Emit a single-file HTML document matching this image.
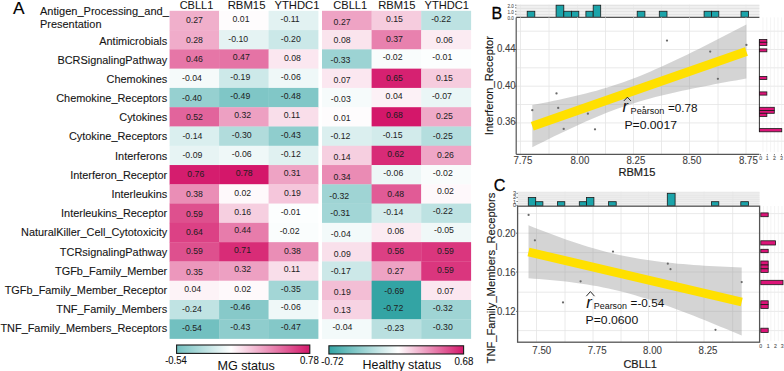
<!DOCTYPE html>
<html><head><meta charset="utf-8"><style>
html,body{margin:0;padding:0;background:#fff;}
body{width:784px;height:371px;overflow:hidden;}
svg{display:block;font-family:"Liberation Sans", sans-serif;}
</style></head><body>
<svg width="784" height="371" viewBox="0 0 784 371">
<rect width="784" height="371" fill="#fff"/>
<rect x="169.60" y="10.80" width="49.80" height="19.58" fill="#f0afcb"/>
<rect x="219.10" y="10.80" width="49.80" height="19.58" fill="#fefcfd"/>
<rect x="268.60" y="10.80" width="49.80" height="19.58" fill="#e2f2f2"/>
<rect x="169.60" y="30.08" width="49.80" height="19.58" fill="#f0acca"/>
<rect x="219.10" y="30.08" width="49.80" height="19.58" fill="#e5f3f3"/>
<rect x="268.60" y="30.08" width="49.80" height="19.58" fill="#cbe8e8"/>
<rect x="169.60" y="49.36" width="49.80" height="19.58" fill="#e676a7"/>
<rect x="219.10" y="49.36" width="49.80" height="19.58" fill="#e573a5"/>
<rect x="268.60" y="49.36" width="49.80" height="19.58" fill="#fbe7f0"/>
<rect x="169.60" y="68.64" width="49.80" height="19.58" fill="#f5fafa"/>
<rect x="219.10" y="68.64" width="49.80" height="19.58" fill="#cde9e9"/>
<rect x="268.60" y="68.64" width="49.80" height="19.58" fill="#eff8f8"/>
<rect x="169.60" y="87.92" width="49.80" height="19.58" fill="#96d0d0"/>
<rect x="219.10" y="87.92" width="49.80" height="19.58" fill="#7fc6c6"/>
<rect x="268.60" y="87.92" width="49.80" height="19.58" fill="#81c7c7"/>
<rect x="169.60" y="107.20" width="49.80" height="19.58" fill="#e2649c"/>
<rect x="219.10" y="107.20" width="49.80" height="19.58" fill="#eda0c2"/>
<rect x="268.60" y="107.20" width="49.80" height="19.58" fill="#f9deea"/>
<rect x="169.60" y="126.48" width="49.80" height="19.58" fill="#daefef"/>
<rect x="219.10" y="126.48" width="49.80" height="19.58" fill="#b1dcdc"/>
<rect x="268.60" y="126.48" width="49.80" height="19.58" fill="#8fcdcd"/>
<rect x="169.60" y="145.76" width="49.80" height="19.58" fill="#e7f4f4"/>
<rect x="219.10" y="145.76" width="49.80" height="19.58" fill="#eff8f8"/>
<rect x="268.60" y="145.76" width="49.80" height="19.58" fill="#e0f1f1"/>
<rect x="169.60" y="165.04" width="49.80" height="19.58" fill="#d51d6e"/>
<rect x="219.10" y="165.04" width="49.80" height="19.58" fill="#d4176a"/>
<rect x="268.60" y="165.04" width="49.80" height="19.58" fill="#eea3c4"/>
<rect x="169.60" y="184.32" width="49.80" height="19.58" fill="#ea8eb6"/>
<rect x="219.10" y="184.32" width="49.80" height="19.58" fill="#fef9fb"/>
<rect x="268.60" y="184.32" width="49.80" height="19.58" fill="#f5c6db"/>
<rect x="169.60" y="203.60" width="49.80" height="19.58" fill="#de508e"/>
<rect x="219.10" y="203.60" width="49.80" height="19.58" fill="#f6cfe0"/>
<rect x="268.60" y="203.60" width="49.80" height="19.58" fill="#fcfefe"/>
<rect x="169.60" y="222.88" width="49.80" height="19.58" fill="#dc4185"/>
<rect x="219.10" y="222.88" width="49.80" height="19.58" fill="#e77cab"/>
<rect x="268.60" y="222.88" width="49.80" height="19.58" fill="#fafdfd"/>
<rect x="169.60" y="242.16" width="49.80" height="19.58" fill="#de508e"/>
<rect x="219.10" y="242.16" width="49.80" height="19.58" fill="#d82c77"/>
<rect x="268.60" y="242.16" width="49.80" height="19.58" fill="#ea8eb6"/>
<rect x="169.60" y="261.44" width="49.80" height="19.58" fill="#ec97bc"/>
<rect x="219.10" y="261.44" width="49.80" height="19.58" fill="#eda0c2"/>
<rect x="268.60" y="261.44" width="49.80" height="19.58" fill="#f9deea"/>
<rect x="169.60" y="280.72" width="49.80" height="19.58" fill="#fdf3f7"/>
<rect x="219.10" y="280.72" width="49.80" height="19.58" fill="#fef9fb"/>
<rect x="268.60" y="280.72" width="49.80" height="19.58" fill="#a3d6d6"/>
<rect x="169.60" y="300.00" width="49.80" height="19.58" fill="#c0e3e3"/>
<rect x="219.10" y="300.00" width="49.80" height="19.58" fill="#87c9c9"/>
<rect x="268.60" y="300.00" width="49.80" height="19.58" fill="#eff8f8"/>
<rect x="169.60" y="319.28" width="49.80" height="19.58" fill="#72c0c0"/>
<rect x="219.10" y="319.28" width="49.80" height="19.58" fill="#8fcdcd"/>
<rect x="268.60" y="319.28" width="49.80" height="19.58" fill="#84c8c8"/>
<text transform="translate(194.40,23.40) scale(0.92,1)" x="0" y="0" font-size="9.5" text-anchor="middle" fill="#1e1e1e" stroke="#1e1e1e" stroke-width="0.03">0.27</text>
<text transform="translate(241.00,22.00) scale(0.92,1)" x="0" y="0" font-size="9.5" text-anchor="middle" fill="#1e1e1e" stroke="#1e1e1e" stroke-width="0.03">0.01</text>
<text transform="translate(290.10,22.00) scale(0.92,1)" x="0" y="0" font-size="9.5" text-anchor="middle" fill="#1e1e1e" stroke="#1e1e1e" stroke-width="0.03">-0.11</text>
<text transform="translate(194.40,43.10) scale(0.92,1)" x="0" y="0" font-size="9.5" text-anchor="middle" fill="#1e1e1e" stroke="#1e1e1e" stroke-width="0.03">0.28</text>
<text transform="translate(238.20,41.70) scale(0.92,1)" x="0" y="0" font-size="9.5" text-anchor="middle" fill="#1e1e1e" stroke="#1e1e1e" stroke-width="0.03">-0.10</text>
<text transform="translate(290.80,41.70) scale(0.92,1)" x="0" y="0" font-size="9.5" text-anchor="middle" fill="#1e1e1e" stroke="#1e1e1e" stroke-width="0.03">-0.20</text>
<text transform="translate(194.40,62.20) scale(0.92,1)" x="0" y="0" font-size="9.5" text-anchor="middle" fill="#1e1e1e" stroke="#1e1e1e" stroke-width="0.03">0.46</text>
<text transform="translate(241.30,60.30) scale(0.92,1)" x="0" y="0" font-size="9.5" text-anchor="middle" fill="#1e1e1e" stroke="#1e1e1e" stroke-width="0.03">0.47</text>
<text transform="translate(292.40,60.90) scale(0.92,1)" x="0" y="0" font-size="9.5" text-anchor="middle" fill="#1e1e1e" stroke="#1e1e1e" stroke-width="0.03">0.08</text>
<text transform="translate(192.00,81.40) scale(0.92,1)" x="0" y="0" font-size="9.5" text-anchor="middle" fill="#1e1e1e" stroke="#1e1e1e" stroke-width="0.03">-0.04</text>
<text transform="translate(240.30,80.00) scale(0.92,1)" x="0" y="0" font-size="9.5" text-anchor="middle" fill="#1e1e1e" stroke="#1e1e1e" stroke-width="0.03">-0.19</text>
<text transform="translate(290.80,80.00) scale(0.92,1)" x="0" y="0" font-size="9.5" text-anchor="middle" fill="#1e1e1e" stroke="#1e1e1e" stroke-width="0.03">-0.06</text>
<text transform="translate(192.00,100.50) scale(0.92,1)" x="0" y="0" font-size="9.5" text-anchor="middle" fill="#1e1e1e" stroke="#1e1e1e" stroke-width="0.03">-0.40</text>
<text transform="translate(240.30,99.20) scale(0.92,1)" x="0" y="0" font-size="9.5" text-anchor="middle" fill="#1e1e1e" stroke="#1e1e1e" stroke-width="0.03">-0.49</text>
<text transform="translate(290.80,99.20) scale(0.92,1)" x="0" y="0" font-size="9.5" text-anchor="middle" fill="#1e1e1e" stroke="#1e1e1e" stroke-width="0.03">-0.48</text>
<text transform="translate(194.40,119.60) scale(0.92,1)" x="0" y="0" font-size="9.5" text-anchor="middle" fill="#1e1e1e" stroke="#1e1e1e" stroke-width="0.03">0.52</text>
<text transform="translate(242.70,118.30) scale(0.92,1)" x="0" y="0" font-size="9.5" text-anchor="middle" fill="#1e1e1e" stroke="#1e1e1e" stroke-width="0.03">0.32</text>
<text transform="translate(291.90,118.30) scale(0.92,1)" x="0" y="0" font-size="9.5" text-anchor="middle" fill="#1e1e1e" stroke="#1e1e1e" stroke-width="0.03">0.11</text>
<text transform="translate(192.40,138.60) scale(0.92,1)" x="0" y="0" font-size="9.5" text-anchor="middle" fill="#1e1e1e" stroke="#1e1e1e" stroke-width="0.03">-0.14</text>
<text transform="translate(241.70,137.50) scale(0.92,1)" x="0" y="0" font-size="9.5" text-anchor="middle" fill="#1e1e1e" stroke="#1e1e1e" stroke-width="0.03">-0.30</text>
<text transform="translate(290.80,137.50) scale(0.92,1)" x="0" y="0" font-size="9.5" text-anchor="middle" fill="#1e1e1e" stroke="#1e1e1e" stroke-width="0.03">-0.43</text>
<text transform="translate(192.40,158.10) scale(0.92,1)" x="0" y="0" font-size="9.5" text-anchor="middle" fill="#1e1e1e" stroke="#1e1e1e" stroke-width="0.03">-0.09</text>
<text transform="translate(241.70,156.60) scale(0.92,1)" x="0" y="0" font-size="9.5" text-anchor="middle" fill="#1e1e1e" stroke="#1e1e1e" stroke-width="0.03">-0.06</text>
<text transform="translate(290.80,156.60) scale(0.92,1)" x="0" y="0" font-size="9.5" text-anchor="middle" fill="#1e1e1e" stroke="#1e1e1e" stroke-width="0.03">-0.12</text>
<text transform="translate(195.80,177.30) scale(0.92,1)" x="0" y="0" font-size="9.5" text-anchor="middle" fill="#1e1e1e" stroke="#1e1e1e" stroke-width="0.03">0.76</text>
<text transform="translate(244.20,175.70) scale(0.92,1)" x="0" y="0" font-size="9.5" text-anchor="middle" fill="#1e1e1e" stroke="#1e1e1e" stroke-width="0.03">0.78</text>
<text transform="translate(292.20,175.70) scale(0.92,1)" x="0" y="0" font-size="9.5" text-anchor="middle" fill="#1e1e1e" stroke="#1e1e1e" stroke-width="0.03">0.31</text>
<text transform="translate(194.40,196.60) scale(0.92,1)" x="0" y="0" font-size="9.5" text-anchor="middle" fill="#1e1e1e" stroke="#1e1e1e" stroke-width="0.03">0.38</text>
<text transform="translate(242.70,195.50) scale(0.92,1)" x="0" y="0" font-size="9.5" text-anchor="middle" fill="#1e1e1e" stroke="#1e1e1e" stroke-width="0.03">0.02</text>
<text transform="translate(292.40,195.50) scale(0.92,1)" x="0" y="0" font-size="9.5" text-anchor="middle" fill="#1e1e1e" stroke="#1e1e1e" stroke-width="0.03">0.19</text>
<text transform="translate(194.40,217.10) scale(0.92,1)" x="0" y="0" font-size="9.5" text-anchor="middle" fill="#1e1e1e" stroke="#1e1e1e" stroke-width="0.03">0.59</text>
<text transform="translate(242.70,215.20) scale(0.92,1)" x="0" y="0" font-size="9.5" text-anchor="middle" fill="#1e1e1e" stroke="#1e1e1e" stroke-width="0.03">0.16</text>
<text transform="translate(290.60,214.60) scale(0.92,1)" x="0" y="0" font-size="9.5" text-anchor="middle" fill="#1e1e1e" stroke="#1e1e1e" stroke-width="0.03">-0.01</text>
<text transform="translate(194.40,234.90) scale(0.92,1)" x="0" y="0" font-size="9.5" text-anchor="middle" fill="#1e1e1e" stroke="#1e1e1e" stroke-width="0.03">0.64</text>
<text transform="translate(242.70,233.30) scale(0.92,1)" x="0" y="0" font-size="9.5" text-anchor="middle" fill="#1e1e1e" stroke="#1e1e1e" stroke-width="0.03">0.44</text>
<text transform="translate(289.60,234.30) scale(0.92,1)" x="0" y="0" font-size="9.5" text-anchor="middle" fill="#1e1e1e" stroke="#1e1e1e" stroke-width="0.03">-0.02</text>
<text transform="translate(194.40,253.50) scale(0.92,1)" x="0" y="0" font-size="9.5" text-anchor="middle" fill="#1e1e1e" stroke="#1e1e1e" stroke-width="0.03">0.59</text>
<text transform="translate(242.50,252.70) scale(0.92,1)" x="0" y="0" font-size="9.5" text-anchor="middle" fill="#1e1e1e" stroke="#1e1e1e" stroke-width="0.03">0.71</text>
<text transform="translate(292.40,253.50) scale(0.92,1)" x="0" y="0" font-size="9.5" text-anchor="middle" fill="#1e1e1e" stroke="#1e1e1e" stroke-width="0.03">0.38</text>
<text transform="translate(194.40,274.50) scale(0.92,1)" x="0" y="0" font-size="9.5" text-anchor="middle" fill="#1e1e1e" stroke="#1e1e1e" stroke-width="0.03">0.35</text>
<text transform="translate(242.70,271.80) scale(0.92,1)" x="0" y="0" font-size="9.5" text-anchor="middle" fill="#1e1e1e" stroke="#1e1e1e" stroke-width="0.03">0.32</text>
<text transform="translate(291.90,271.80) scale(0.92,1)" x="0" y="0" font-size="9.5" text-anchor="middle" fill="#1e1e1e" stroke="#1e1e1e" stroke-width="0.03">0.11</text>
<text transform="translate(192.70,292.30) scale(0.92,1)" x="0" y="0" font-size="9.5" text-anchor="middle" fill="#1e1e1e" stroke="#1e1e1e" stroke-width="0.03">0.04</text>
<text transform="translate(242.70,291.70) scale(0.92,1)" x="0" y="0" font-size="9.5" text-anchor="middle" fill="#1e1e1e" stroke="#1e1e1e" stroke-width="0.03">0.02</text>
<text transform="translate(290.80,291.70) scale(0.92,1)" x="0" y="0" font-size="9.5" text-anchor="middle" fill="#1e1e1e" stroke="#1e1e1e" stroke-width="0.03">-0.35</text>
<text transform="translate(192.00,312.20) scale(0.92,1)" x="0" y="0" font-size="9.5" text-anchor="middle" fill="#1e1e1e" stroke="#1e1e1e" stroke-width="0.03">-0.24</text>
<text transform="translate(240.30,310.30) scale(0.92,1)" x="0" y="0" font-size="9.5" text-anchor="middle" fill="#1e1e1e" stroke="#1e1e1e" stroke-width="0.03">-0.46</text>
<text transform="translate(290.80,309.70) scale(0.92,1)" x="0" y="0" font-size="9.5" text-anchor="middle" fill="#1e1e1e" stroke="#1e1e1e" stroke-width="0.03">-0.06</text>
<text transform="translate(192.00,331.30) scale(0.92,1)" x="0" y="0" font-size="9.5" text-anchor="middle" fill="#1e1e1e" stroke="#1e1e1e" stroke-width="0.03">-0.54</text>
<text transform="translate(240.30,330.20) scale(0.92,1)" x="0" y="0" font-size="9.5" text-anchor="middle" fill="#1e1e1e" stroke="#1e1e1e" stroke-width="0.03">-0.43</text>
<text transform="translate(290.80,329.80) scale(0.92,1)" x="0" y="0" font-size="9.5" text-anchor="middle" fill="#1e1e1e" stroke="#1e1e1e" stroke-width="0.03">-0.47</text>
<rect x="322.00" y="10.80" width="49.90" height="19.58" fill="#eea3c4"/>
<rect x="371.60" y="10.80" width="49.90" height="19.58" fill="#f6ccde"/>
<rect x="421.20" y="10.80" width="49.90" height="19.58" fill="#bde2e2"/>
<rect x="322.00" y="30.08" width="49.90" height="19.58" fill="#fae4ed"/>
<rect x="371.60" y="30.08" width="49.90" height="19.58" fill="#e881ae"/>
<rect x="421.20" y="30.08" width="49.90" height="19.58" fill="#fbebf2"/>
<rect x="322.00" y="49.36" width="49.90" height="19.58" fill="#9cd3d3"/>
<rect x="371.60" y="49.36" width="49.90" height="19.58" fill="#f9fcfc"/>
<rect x="421.20" y="49.36" width="49.90" height="19.58" fill="#fcfefe"/>
<rect x="322.00" y="68.64" width="49.90" height="19.58" fill="#fbe7f0"/>
<rect x="371.60" y="68.64" width="49.90" height="19.58" fill="#d62171"/>
<rect x="421.20" y="68.64" width="49.90" height="19.58" fill="#f6ccde"/>
<rect x="322.00" y="87.92" width="49.90" height="19.58" fill="#f6fbfb"/>
<rect x="371.60" y="87.92" width="49.90" height="19.58" fill="#fcf1f6"/>
<rect x="421.20" y="87.92" width="49.90" height="19.58" fill="#eaf6f6"/>
<rect x="322.00" y="107.20" width="49.90" height="19.58" fill="#fefcfd"/>
<rect x="371.60" y="107.20" width="49.90" height="19.58" fill="#d4176a"/>
<rect x="421.20" y="107.20" width="49.90" height="19.58" fill="#efaac8"/>
<rect x="322.00" y="126.48" width="49.90" height="19.58" fill="#dbefef"/>
<rect x="371.60" y="126.48" width="49.90" height="19.58" fill="#d2ebeb"/>
<rect x="421.20" y="126.48" width="49.90" height="19.58" fill="#b4dede"/>
<rect x="322.00" y="145.76" width="49.90" height="19.58" fill="#f6cfe0"/>
<rect x="371.60" y="145.76" width="49.90" height="19.58" fill="#d82b77"/>
<rect x="421.20" y="145.76" width="49.90" height="19.58" fill="#efa6c6"/>
<rect x="322.00" y="165.04" width="49.90" height="19.58" fill="#ea8bb4"/>
<rect x="371.60" y="165.04" width="49.90" height="19.58" fill="#edf7f7"/>
<rect x="421.20" y="165.04" width="49.90" height="19.58" fill="#f9fcfc"/>
<rect x="322.00" y="184.32" width="49.90" height="19.58" fill="#9fd4d4"/>
<rect x="371.60" y="184.32" width="49.90" height="19.58" fill="#e15b96"/>
<rect x="421.20" y="184.32" width="49.90" height="19.58" fill="#fef8fb"/>
<rect x="322.00" y="203.60" width="49.90" height="19.58" fill="#a2d6d6"/>
<rect x="371.60" y="203.60" width="49.90" height="19.58" fill="#d5ecec"/>
<rect x="421.20" y="203.60" width="49.90" height="19.58" fill="#bde2e2"/>
<rect x="322.00" y="222.88" width="49.90" height="19.58" fill="#f3fafa"/>
<rect x="371.60" y="222.88" width="49.90" height="19.58" fill="#fbebf2"/>
<rect x="421.20" y="222.88" width="49.90" height="19.58" fill="#f0f8f8"/>
<rect x="322.00" y="242.16" width="49.90" height="19.58" fill="#f9e0eb"/>
<rect x="371.60" y="242.16" width="49.90" height="19.58" fill="#dc4084"/>
<rect x="421.20" y="242.16" width="49.90" height="19.58" fill="#da367e"/>
<rect x="322.00" y="261.44" width="49.90" height="19.58" fill="#cce8e8"/>
<rect x="371.60" y="261.44" width="49.90" height="19.58" fill="#eea3c4"/>
<rect x="421.20" y="261.44" width="49.90" height="19.58" fill="#da367e"/>
<rect x="322.00" y="280.72" width="49.90" height="19.58" fill="#f3bed5"/>
<rect x="371.60" y="280.72" width="49.90" height="19.58" fill="#33a4a4"/>
<rect x="421.20" y="280.72" width="49.90" height="19.58" fill="#fbe7f0"/>
<rect x="322.00" y="300.00" width="49.90" height="19.58" fill="#f7d3e3"/>
<rect x="371.60" y="300.00" width="49.90" height="19.58" fill="#33a4a4"/>
<rect x="421.20" y="300.00" width="49.90" height="19.58" fill="#9fd4d4"/>
<rect x="322.00" y="319.28" width="49.90" height="19.58" fill="#f3fafa"/>
<rect x="371.60" y="319.28" width="49.90" height="19.58" fill="#bae0e0"/>
<rect x="421.20" y="319.28" width="49.90" height="19.58" fill="#a5d7d7"/>
<text transform="translate(342.10,24.90) scale(0.92,1)" x="0" y="0" font-size="9.5" text-anchor="middle" fill="#1e1e1e" stroke="#1e1e1e" stroke-width="0.03">0.27</text>
<text transform="translate(394.40,22.00) scale(0.92,1)" x="0" y="0" font-size="9.5" text-anchor="middle" fill="#1e1e1e" stroke="#1e1e1e" stroke-width="0.03">0.15</text>
<text transform="translate(441.10,21.50) scale(0.92,1)" x="0" y="0" font-size="9.5" text-anchor="middle" fill="#1e1e1e" stroke="#1e1e1e" stroke-width="0.03">-0.22</text>
<text transform="translate(342.10,43.10) scale(0.92,1)" x="0" y="0" font-size="9.5" text-anchor="middle" fill="#1e1e1e" stroke="#1e1e1e" stroke-width="0.03">0.08</text>
<text transform="translate(394.40,41.70) scale(0.92,1)" x="0" y="0" font-size="9.5" text-anchor="middle" fill="#1e1e1e" stroke="#1e1e1e" stroke-width="0.03">0.37</text>
<text transform="translate(444.40,42.50) scale(0.92,1)" x="0" y="0" font-size="9.5" text-anchor="middle" fill="#1e1e1e" stroke="#1e1e1e" stroke-width="0.03">0.06</text>
<text transform="translate(340.50,62.80) scale(0.92,1)" x="0" y="0" font-size="9.5" text-anchor="middle" fill="#1e1e1e" stroke="#1e1e1e" stroke-width="0.03">-0.33</text>
<text transform="translate(392.60,60.30) scale(0.92,1)" x="0" y="0" font-size="9.5" text-anchor="middle" fill="#1e1e1e" stroke="#1e1e1e" stroke-width="0.03">-0.02</text>
<text transform="translate(442.30,60.30) scale(0.92,1)" x="0" y="0" font-size="9.5" text-anchor="middle" fill="#1e1e1e" stroke="#1e1e1e" stroke-width="0.03">-0.01</text>
<text transform="translate(342.10,82.90) scale(0.92,1)" x="0" y="0" font-size="9.5" text-anchor="middle" fill="#1e1e1e" stroke="#1e1e1e" stroke-width="0.03">0.07</text>
<text transform="translate(394.40,80.60) scale(0.92,1)" x="0" y="0" font-size="9.5" text-anchor="middle" fill="#1e1e1e" stroke="#1e1e1e" stroke-width="0.03">0.65</text>
<text transform="translate(444.40,80.60) scale(0.92,1)" x="0" y="0" font-size="9.5" text-anchor="middle" fill="#1e1e1e" stroke="#1e1e1e" stroke-width="0.03">0.15</text>
<text transform="translate(340.80,102.40) scale(0.92,1)" x="0" y="0" font-size="9.5" text-anchor="middle" fill="#1e1e1e" stroke="#1e1e1e" stroke-width="0.03">-0.03</text>
<text transform="translate(394.10,99.20) scale(0.92,1)" x="0" y="0" font-size="9.5" text-anchor="middle" fill="#1e1e1e" stroke="#1e1e1e" stroke-width="0.03">0.04</text>
<text transform="translate(441.90,99.20) scale(0.92,1)" x="0" y="0" font-size="9.5" text-anchor="middle" fill="#1e1e1e" stroke="#1e1e1e" stroke-width="0.03">-0.07</text>
<text transform="translate(342.10,120.80) scale(0.92,1)" x="0" y="0" font-size="9.5" text-anchor="middle" fill="#1e1e1e" stroke="#1e1e1e" stroke-width="0.03">0.01</text>
<text transform="translate(394.40,118.30) scale(0.92,1)" x="0" y="0" font-size="9.5" text-anchor="middle" fill="#1e1e1e" stroke="#1e1e1e" stroke-width="0.03">0.68</text>
<text transform="translate(444.40,119.30) scale(0.92,1)" x="0" y="0" font-size="9.5" text-anchor="middle" fill="#1e1e1e" stroke="#1e1e1e" stroke-width="0.03">0.25</text>
<text transform="translate(340.50,139.40) scale(0.92,1)" x="0" y="0" font-size="9.5" text-anchor="middle" fill="#1e1e1e" stroke="#1e1e1e" stroke-width="0.03">-0.12</text>
<text transform="translate(392.60,137.50) scale(0.92,1)" x="0" y="0" font-size="9.5" text-anchor="middle" fill="#1e1e1e" stroke="#1e1e1e" stroke-width="0.03">-0.15</text>
<text transform="translate(442.80,138.60) scale(0.92,1)" x="0" y="0" font-size="9.5" text-anchor="middle" fill="#1e1e1e" stroke="#1e1e1e" stroke-width="0.03">-0.25</text>
<text transform="translate(342.10,160.00) scale(0.92,1)" x="0" y="0" font-size="9.5" text-anchor="middle" fill="#1e1e1e" stroke="#1e1e1e" stroke-width="0.03">0.14</text>
<text transform="translate(395.70,157.20) scale(0.92,1)" x="0" y="0" font-size="9.5" text-anchor="middle" fill="#1e1e1e" stroke="#1e1e1e" stroke-width="0.03">0.62</text>
<text transform="translate(445.40,157.70) scale(0.92,1)" x="0" y="0" font-size="9.5" text-anchor="middle" fill="#1e1e1e" stroke="#1e1e1e" stroke-width="0.03">0.26</text>
<text transform="translate(342.10,179.60) scale(0.92,1)" x="0" y="0" font-size="9.5" text-anchor="middle" fill="#1e1e1e" stroke="#1e1e1e" stroke-width="0.03">0.34</text>
<text transform="translate(393.30,175.70) scale(0.92,1)" x="0" y="0" font-size="9.5" text-anchor="middle" fill="#1e1e1e" stroke="#1e1e1e" stroke-width="0.03">-0.06</text>
<text transform="translate(442.80,176.30) scale(0.92,1)" x="0" y="0" font-size="9.5" text-anchor="middle" fill="#1e1e1e" stroke="#1e1e1e" stroke-width="0.03">-0.02</text>
<text transform="translate(339.20,198.90) scale(0.92,1)" x="0" y="0" font-size="9.5" text-anchor="middle" fill="#1e1e1e" stroke="#1e1e1e" stroke-width="0.03">-0.32</text>
<text transform="translate(395.70,196.60) scale(0.92,1)" x="0" y="0" font-size="9.5" text-anchor="middle" fill="#1e1e1e" stroke="#1e1e1e" stroke-width="0.03">0.48</text>
<text transform="translate(445.40,193.50) scale(0.92,1)" x="0" y="0" font-size="9.5" text-anchor="middle" fill="#1e1e1e" stroke="#1e1e1e" stroke-width="0.03">0.02</text>
<text transform="translate(340.20,215.70) scale(0.92,1)" x="0" y="0" font-size="9.5" text-anchor="middle" fill="#1e1e1e" stroke="#1e1e1e" stroke-width="0.03">-0.31</text>
<text transform="translate(393.30,214.60) scale(0.92,1)" x="0" y="0" font-size="9.5" text-anchor="middle" fill="#1e1e1e" stroke="#1e1e1e" stroke-width="0.03">-0.14</text>
<text transform="translate(442.80,214.20) scale(0.92,1)" x="0" y="0" font-size="9.5" text-anchor="middle" fill="#1e1e1e" stroke="#1e1e1e" stroke-width="0.03">-0.22</text>
<text transform="translate(340.80,237.20) scale(0.92,1)" x="0" y="0" font-size="9.5" text-anchor="middle" fill="#1e1e1e" stroke="#1e1e1e" stroke-width="0.03">-0.04</text>
<text transform="translate(395.70,234.30) scale(0.92,1)" x="0" y="0" font-size="9.5" text-anchor="middle" fill="#1e1e1e" stroke="#1e1e1e" stroke-width="0.03">0.06</text>
<text transform="translate(444.00,233.00) scale(0.92,1)" x="0" y="0" font-size="9.5" text-anchor="middle" fill="#1e1e1e" stroke="#1e1e1e" stroke-width="0.03">-0.05</text>
<text transform="translate(342.30,256.50) scale(0.92,1)" x="0" y="0" font-size="9.5" text-anchor="middle" fill="#1e1e1e" stroke="#1e1e1e" stroke-width="0.03">0.09</text>
<text transform="translate(395.70,253.50) scale(0.92,1)" x="0" y="0" font-size="9.5" text-anchor="middle" fill="#1e1e1e" stroke="#1e1e1e" stroke-width="0.03">0.56</text>
<text transform="translate(445.40,253.50) scale(0.92,1)" x="0" y="0" font-size="9.5" text-anchor="middle" fill="#1e1e1e" stroke="#1e1e1e" stroke-width="0.03">0.59</text>
<text transform="translate(340.80,273.70) scale(0.92,1)" x="0" y="0" font-size="9.5" text-anchor="middle" fill="#1e1e1e" stroke="#1e1e1e" stroke-width="0.03">-0.17</text>
<text transform="translate(395.70,273.70) scale(0.92,1)" x="0" y="0" font-size="9.5" text-anchor="middle" fill="#1e1e1e" stroke="#1e1e1e" stroke-width="0.03">0.27</text>
<text transform="translate(445.40,272.60) scale(0.92,1)" x="0" y="0" font-size="9.5" text-anchor="middle" fill="#1e1e1e" stroke="#1e1e1e" stroke-width="0.03">0.59</text>
<text transform="translate(342.30,294.80) scale(0.92,1)" x="0" y="0" font-size="9.5" text-anchor="middle" fill="#1e1e1e" stroke="#1e1e1e" stroke-width="0.03">0.19</text>
<text transform="translate(394.20,293.60) scale(0.92,1)" x="0" y="0" font-size="9.5" text-anchor="middle" fill="#1e1e1e" stroke="#1e1e1e" stroke-width="0.03">-0.69</text>
<text transform="translate(445.40,293.60) scale(0.92,1)" x="0" y="0" font-size="9.5" text-anchor="middle" fill="#1e1e1e" stroke="#1e1e1e" stroke-width="0.03">0.07</text>
<text transform="translate(342.30,312.90) scale(0.92,1)" x="0" y="0" font-size="9.5" text-anchor="middle" fill="#1e1e1e" stroke="#1e1e1e" stroke-width="0.03">0.13</text>
<text transform="translate(393.30,311.00) scale(0.92,1)" x="0" y="0" font-size="9.5" text-anchor="middle" fill="#1e1e1e" stroke="#1e1e1e" stroke-width="0.03">-0.72</text>
<text transform="translate(442.80,311.00) scale(0.92,1)" x="0" y="0" font-size="9.5" text-anchor="middle" fill="#1e1e1e" stroke="#1e1e1e" stroke-width="0.03">-0.32</text>
<text transform="translate(342.40,330.20) scale(0.92,1)" x="0" y="0" font-size="9.5" text-anchor="middle" fill="#1e1e1e" stroke="#1e1e1e" stroke-width="0.03">-0.04</text>
<text transform="translate(394.20,331.30) scale(0.92,1)" x="0" y="0" font-size="9.5" text-anchor="middle" fill="#1e1e1e" stroke="#1e1e1e" stroke-width="0.03">-0.23</text>
<text transform="translate(442.80,329.80) scale(0.92,1)" x="0" y="0" font-size="9.5" text-anchor="middle" fill="#1e1e1e" stroke="#1e1e1e" stroke-width="0.03">-0.30</text>
<text x="179.70" y="9.30" font-size="10.6" text-anchor="start" fill="#151515" textLength="33.60" lengthAdjust="spacingAndGlyphs" stroke="#151515" stroke-width="0.05">CBLL1</text>
<text x="227.70" y="9.30" font-size="10.6" text-anchor="start" fill="#151515" textLength="37.80" lengthAdjust="spacingAndGlyphs" stroke="#151515" stroke-width="0.05">RBM15</text>
<text x="274.50" y="9.30" font-size="10.6" text-anchor="start" fill="#151515" textLength="45.00" lengthAdjust="spacingAndGlyphs" stroke="#151515" stroke-width="0.05">YTHDC1</text>
<text x="333.30" y="9.30" font-size="10.6" text-anchor="start" fill="#151515" textLength="33.80" lengthAdjust="spacingAndGlyphs" stroke="#151515" stroke-width="0.05">CBLL1</text>
<text x="378.20" y="9.30" font-size="10.6" text-anchor="start" fill="#151515" textLength="37.30" lengthAdjust="spacingAndGlyphs" stroke="#151515" stroke-width="0.05">RBM15</text>
<text x="424.50" y="9.30" font-size="10.6" text-anchor="start" fill="#151515" textLength="44.50" lengthAdjust="spacingAndGlyphs" stroke="#151515" stroke-width="0.05">YTHDC1</text>
<text x="40.00" y="14.70" font-size="11.2" text-anchor="start" fill="#151515" textLength="128.80" lengthAdjust="spacingAndGlyphs" stroke="#151515" stroke-width="0.1">Antigen_Processing_and_</text>
<text x="40.00" y="28.20" font-size="11.2" text-anchor="start" fill="#151515" textLength="61.50" lengthAdjust="spacingAndGlyphs" stroke="#151515" stroke-width="0.1">Presentation</text>
<text transform="translate(167.20,44.50) scale(0.95,1)" x="0" y="0" font-size="11.5" text-anchor="end" fill="#151515" stroke="#151515" stroke-width="0.1">Antimicrobials</text>
<text transform="translate(167.20,63.69) scale(0.95,1)" x="0" y="0" font-size="11.5" text-anchor="end" fill="#151515" stroke="#151515" stroke-width="0.1">BCRSignalingPathway</text>
<text transform="translate(167.20,82.88) scale(0.95,1)" x="0" y="0" font-size="11.5" text-anchor="end" fill="#151515" stroke="#151515" stroke-width="0.1">Chemokines</text>
<text transform="translate(167.20,102.07) scale(0.95,1)" x="0" y="0" font-size="11.5" text-anchor="end" fill="#151515" stroke="#151515" stroke-width="0.1">Chemokine_Receptors</text>
<text transform="translate(167.20,121.26) scale(0.95,1)" x="0" y="0" font-size="11.5" text-anchor="end" fill="#151515" stroke="#151515" stroke-width="0.1">Cytokines</text>
<text transform="translate(167.20,140.45) scale(0.95,1)" x="0" y="0" font-size="11.5" text-anchor="end" fill="#151515" stroke="#151515" stroke-width="0.1">Cytokine_Receptors</text>
<text transform="translate(167.20,159.64) scale(0.95,1)" x="0" y="0" font-size="11.5" text-anchor="end" fill="#151515" stroke="#151515" stroke-width="0.1">Interferons</text>
<text transform="translate(167.20,178.83) scale(0.95,1)" x="0" y="0" font-size="11.5" text-anchor="end" fill="#151515" stroke="#151515" stroke-width="0.1">Interferon_Receptor</text>
<text transform="translate(167.20,198.02) scale(0.95,1)" x="0" y="0" font-size="11.5" text-anchor="end" fill="#151515" stroke="#151515" stroke-width="0.1">Interleukins</text>
<text transform="translate(167.20,217.21) scale(0.95,1)" x="0" y="0" font-size="11.5" text-anchor="end" fill="#151515" stroke="#151515" stroke-width="0.1">Interleukins_Receptor</text>
<text transform="translate(167.20,236.40) scale(0.95,1)" x="0" y="0" font-size="11.5" text-anchor="end" fill="#151515" stroke="#151515" stroke-width="0.1">NaturalKiller_Cell_Cytotoxicity</text>
<text transform="translate(167.20,255.59) scale(0.95,1)" x="0" y="0" font-size="11.5" text-anchor="end" fill="#151515" stroke="#151515" stroke-width="0.1">TCRsignalingPathway</text>
<text transform="translate(167.20,274.78) scale(0.95,1)" x="0" y="0" font-size="11.5" text-anchor="end" fill="#151515" stroke="#151515" stroke-width="0.1">TGFb_Family_Member</text>
<text transform="translate(167.20,293.97) scale(0.95,1)" x="0" y="0" font-size="11.5" text-anchor="end" fill="#151515" stroke="#151515" stroke-width="0.1">TGFb_Family_Member_Receptor</text>
<text transform="translate(167.20,313.16) scale(0.95,1)" x="0" y="0" font-size="11.5" text-anchor="end" fill="#151515" stroke="#151515" stroke-width="0.1">TNF_Family_Members</text>
<text transform="translate(167.20,332.35) scale(0.95,1)" x="0" y="0" font-size="11.5" text-anchor="end" fill="#151515" stroke="#151515" stroke-width="0.1">TNF_Family_Members_Receptors</text>
<text x="13.10" y="13.90" font-size="17.3" text-anchor="start" fill="#000" stroke="#000" stroke-width="0.15">A</text>
<linearGradient id="g1" x1="0" x2="1" y1="0" y2="0"><stop offset="0.0000" stop-color="#72c0c0"/><stop offset="0.4091" stop-color="#ffffff"/><stop offset="1.0000" stop-color="#d4176a"/></linearGradient>
<rect x="176.60" y="345.00" width="133.20" height="8.40" fill="url(#g1)" stroke="#1a1a1a" stroke-width="1.1"/>
<linearGradient id="g2" x1="0" x2="1" y1="0" y2="0"><stop offset="0.0000" stop-color="#33a4a4"/><stop offset="0.5143" stop-color="#ffffff"/><stop offset="1.0000" stop-color="#d4176a"/></linearGradient>
<rect x="328.90" y="345.80" width="134.70" height="8.20" fill="url(#g2)" stroke="#1a1a1a" stroke-width="1.1"/>
<text x="165.20" y="364.00" font-size="10.2" text-anchor="start" fill="#111" textLength="21.60" lengthAdjust="spacingAndGlyphs" stroke="#111" stroke-width="0.1">-0.54</text>
<text x="300.00" y="364.00" font-size="10.2" text-anchor="start" fill="#111" textLength="18.80" lengthAdjust="spacingAndGlyphs" stroke="#111" stroke-width="0.1">0.78</text>
<text x="217.40" y="369.60" font-size="12.2" text-anchor="start" fill="#111" textLength="57.40" lengthAdjust="spacingAndGlyphs">MG status</text>
<text x="321.20" y="365.20" font-size="10.2" text-anchor="start" fill="#111" textLength="22.40" lengthAdjust="spacingAndGlyphs" stroke="#111" stroke-width="0.1">-0.72</text>
<text x="454.40" y="365.20" font-size="10.2" text-anchor="start" fill="#111" textLength="19.00" lengthAdjust="spacingAndGlyphs" stroke="#111" stroke-width="0.1">0.68</text>
<text x="362.50" y="368.60" font-size="12.2" text-anchor="start" fill="#111" textLength="78.80" lengthAdjust="spacingAndGlyphs">Healthy status</text>
<text transform="translate(491.60,19.10) scale(0.93,1)" x="0" y="0" font-size="17.2" text-anchor="start" fill="#000" stroke="#000" stroke-width="0.3">B</text>
<rect x="516.2" y="4.6" width="243.20" height="12.8" fill="#f0f0f0"/>
<line x1="516.2" x2="759.4" y1="5.4" y2="5.4" stroke="#dedede" stroke-width="0.7"/>
<line x1="516.2" x2="759.4" y1="8.4" y2="8.4" stroke="#dedede" stroke-width="0.7"/>
<line x1="516.2" x2="759.4" y1="11.5" y2="11.5" stroke="#dedede" stroke-width="0.7"/>
<line x1="516.2" x2="759.4" y1="14.5" y2="14.5" stroke="#dedede" stroke-width="0.7"/>
<line x1="520.5" x2="520.5" y1="4.6" y2="17.4" stroke="#e4e4e4" stroke-width="0.5"/>
<line x1="549" x2="549" y1="4.6" y2="17.4" stroke="#e4e4e4" stroke-width="0.5"/>
<line x1="577.5" x2="577.5" y1="4.6" y2="17.4" stroke="#e4e4e4" stroke-width="0.5"/>
<line x1="605.5" x2="605.5" y1="4.6" y2="17.4" stroke="#e4e4e4" stroke-width="0.5"/>
<line x1="633.5" x2="633.5" y1="4.6" y2="17.4" stroke="#e4e4e4" stroke-width="0.5"/>
<line x1="661.5" x2="661.5" y1="4.6" y2="17.4" stroke="#e4e4e4" stroke-width="0.5"/>
<line x1="689.5" x2="689.5" y1="4.6" y2="17.4" stroke="#e4e4e4" stroke-width="0.5"/>
<line x1="718" x2="718" y1="4.6" y2="17.4" stroke="#e4e4e4" stroke-width="0.5"/>
<line x1="746" x2="746" y1="4.6" y2="17.4" stroke="#e4e4e4" stroke-width="0.5"/>
<rect x="527.2" y="11.25" width="7.60" height="6.05" fill="#1ba4aa" stroke="#1a1a1a" stroke-width="0.8"/>
<rect x="556.1" y="5.20" width="7.70" height="12.10" fill="#1ba4aa" stroke="#1a1a1a" stroke-width="0.8"/>
<rect x="563.8" y="11.25" width="7.60" height="6.05" fill="#1ba4aa" stroke="#1a1a1a" stroke-width="0.8"/>
<rect x="571.4" y="11.25" width="7.40" height="6.05" fill="#1ba4aa" stroke="#1a1a1a" stroke-width="0.8"/>
<rect x="585.9" y="11.25" width="7.30" height="6.05" fill="#1ba4aa" stroke="#1a1a1a" stroke-width="0.8"/>
<rect x="593.2" y="5.20" width="7.50" height="12.10" fill="#1ba4aa" stroke="#1a1a1a" stroke-width="0.8"/>
<rect x="637.2" y="11.25" width="7.70" height="6.05" fill="#1ba4aa" stroke="#1a1a1a" stroke-width="0.8"/>
<rect x="659.3" y="11.25" width="7.70" height="6.05" fill="#1ba4aa" stroke="#1a1a1a" stroke-width="0.8"/>
<rect x="704.1" y="11.25" width="7.50" height="6.05" fill="#1ba4aa" stroke="#1a1a1a" stroke-width="0.8"/>
<rect x="711.6" y="11.25" width="7.20" height="6.05" fill="#1ba4aa" stroke="#1a1a1a" stroke-width="0.8"/>
<rect x="741.0" y="11.25" width="7.60" height="6.05" fill="#1ba4aa" stroke="#1a1a1a" stroke-width="0.8"/>
<line x1="516.2" x2="759.4" y1="17.4" y2="17.4" stroke="#555555" stroke-width="1.2"/>
<text transform="translate(513.80,8.00) scale(0.85,1)" x="0" y="0" font-size="5.4" text-anchor="end" fill="#555" stroke="#555" stroke-width="0.1">2.0</text>
<text transform="translate(513.80,14.10) scale(0.85,1)" x="0" y="0" font-size="5.4" text-anchor="end" fill="#555" stroke="#555" stroke-width="0.1">1.0</text>
<text transform="translate(513.80,20.00) scale(0.85,1)" x="0" y="0" font-size="5.4" text-anchor="end" fill="#555" stroke="#555" stroke-width="0.1">0.0</text>
<line x1="515.0" x2="516.4" y1="5.2" y2="5.2" stroke="#555" stroke-width="0.8"/>
<line x1="515.0" x2="516.4" y1="7.8" y2="7.8" stroke="#555" stroke-width="0.8"/>
<line x1="515.0" x2="516.4" y1="11.3" y2="11.3" stroke="#555" stroke-width="0.8"/>
<line x1="515.0" x2="516.4" y1="14.2" y2="14.2" stroke="#555" stroke-width="0.8"/>
<line x1="516.2" x2="784" y1="31.2" y2="31.2" stroke="#e4e4e4" stroke-width="0.8"/>
<line x1="516.2" x2="784" y1="49.5" y2="49.5" stroke="#e4e4e4" stroke-width="0.8"/>
<line x1="516.2" x2="784" y1="67.8" y2="67.8" stroke="#e4e4e4" stroke-width="0.8"/>
<line x1="516.2" x2="784" y1="86.2" y2="86.2" stroke="#e4e4e4" stroke-width="0.8"/>
<line x1="516.2" x2="784" y1="104.5" y2="104.5" stroke="#e4e4e4" stroke-width="0.8"/>
<line x1="516.2" x2="784" y1="122.9" y2="122.9" stroke="#e4e4e4" stroke-width="0.8"/>
<line x1="516.2" x2="784" y1="141.2" y2="141.2" stroke="#e4e4e4" stroke-width="0.8"/>
<line x1="520.5" x2="520.5" y1="17.4" y2="154.3" stroke="#e4e4e4" stroke-width="0.8"/>
<line x1="549" x2="549" y1="17.4" y2="154.3" stroke="#e4e4e4" stroke-width="0.8"/>
<line x1="577.5" x2="577.5" y1="17.4" y2="154.3" stroke="#e4e4e4" stroke-width="0.8"/>
<line x1="605.5" x2="605.5" y1="17.4" y2="154.3" stroke="#e4e4e4" stroke-width="0.8"/>
<line x1="633.5" x2="633.5" y1="17.4" y2="154.3" stroke="#e4e4e4" stroke-width="0.8"/>
<line x1="661.5" x2="661.5" y1="17.4" y2="154.3" stroke="#e4e4e4" stroke-width="0.8"/>
<line x1="689.5" x2="689.5" y1="17.4" y2="154.3" stroke="#e4e4e4" stroke-width="0.8"/>
<line x1="718" x2="718" y1="17.4" y2="154.3" stroke="#e4e4e4" stroke-width="0.8"/>
<line x1="746" x2="746" y1="17.4" y2="154.3" stroke="#e4e4e4" stroke-width="0.8"/>
<path d="M532.30,105.12 L537.65,104.08 L543.00,103.02 L548.36,101.94 L553.71,100.84 L559.06,99.71 L564.41,98.55 L569.77,97.35 L575.12,96.11 L580.47,94.82 L585.82,93.49 L591.18,92.09 L596.53,90.63 L601.88,89.11 L607.24,87.50 L612.59,85.82 L617.94,84.05 L623.29,82.20 L628.64,80.26 L634.00,78.24 L639.35,76.13 L644.70,73.95 L650.05,71.69 L655.41,69.37 L660.76,66.99 L666.11,64.56 L671.46,62.08 L676.82,59.55 L682.17,56.99 L687.52,54.40 L692.88,51.78 L698.23,49.13 L703.58,46.46 L708.93,43.77 L714.28,41.06 L719.64,38.34 L724.99,35.60 L730.34,32.85 L735.69,30.09 L741.05,27.31 L746.40,24.53 L746.40,78.47 L741.05,79.42 L735.69,80.38 L730.34,81.36 L724.99,82.34 L719.64,83.34 L714.28,84.35 L708.93,85.38 L703.58,86.42 L698.23,87.49 L692.88,88.57 L687.52,89.69 L682.17,90.83 L676.82,92.00 L671.46,93.21 L666.11,94.47 L660.76,95.77 L655.41,97.12 L650.05,98.54 L644.70,100.02 L639.35,101.57 L634.00,103.20 L628.64,104.91 L623.29,106.70 L617.94,108.59 L612.59,110.55 L607.24,112.61 L601.88,114.74 L596.53,116.95 L591.18,119.22 L585.82,121.56 L580.47,123.96 L575.12,126.41 L569.77,128.91 L564.41,131.44 L559.06,134.02 L553.71,136.62 L548.36,139.25 L543.00,141.91 L537.65,144.58 L532.30,147.28 Z" fill="#999999" fill-opacity="0.42"/>
<line x1="532.3" y1="126.2" x2="746.4" y2="51.5" stroke="#ffe000" stroke-width="8.9" stroke-linecap="butt"/>
<circle cx="532.3" cy="110.2" r="1.15" fill="#6a6a6a"/>
<circle cx="556.5" cy="93.4" r="1.15" fill="#6a6a6a"/>
<circle cx="558.2" cy="107.9" r="1.15" fill="#6a6a6a"/>
<circle cx="563.7" cy="128.9" r="1.15" fill="#6a6a6a"/>
<circle cx="587.9" cy="113.7" r="1.15" fill="#6a6a6a"/>
<circle cx="595" cy="129.3" r="1.15" fill="#6a6a6a"/>
<circle cx="667" cy="40.6" r="1.15" fill="#6a6a6a"/>
<circle cx="710.2" cy="51.6" r="1.15" fill="#6a6a6a"/>
<circle cx="717.9" cy="78.8" r="1.15" fill="#6a6a6a"/>
<circle cx="746.4" cy="44.9" r="1.15" fill="#6a6a6a"/>
<circle cx="643.8" cy="107.1" r="1.15" fill="#6a6a6a"/>
<line x1="516.2" x2="516.2" y1="17.4" y2="154.3" stroke="#555555" stroke-width="1.2"/>
<line x1="516.2" x2="759.4" y1="154.3" y2="154.3" stroke="#555555" stroke-width="1.2"/>
<line x1="514.7" x2="516.2" y1="49.5" y2="49.5" stroke="#555555" stroke-width="0.9"/>
<text x="497.00" y="51.80" font-size="10.2" text-anchor="start" fill="#404040" textLength="18.70" lengthAdjust="spacingAndGlyphs" stroke="#404040" stroke-width="0.12">0.44</text>
<line x1="514.7" x2="516.2" y1="86.2" y2="86.2" stroke="#555555" stroke-width="0.9"/>
<text x="497.00" y="88.50" font-size="10.2" text-anchor="start" fill="#404040" textLength="18.70" lengthAdjust="spacingAndGlyphs" stroke="#404040" stroke-width="0.12">0.40</text>
<line x1="514.7" x2="516.2" y1="122.9" y2="122.9" stroke="#555555" stroke-width="0.9"/>
<text x="497.00" y="125.20" font-size="10.2" text-anchor="start" fill="#404040" textLength="18.70" lengthAdjust="spacingAndGlyphs" stroke="#404040" stroke-width="0.12">0.36</text>
<text transform="translate(522.90,163.70) scale(0.97,1)" x="0" y="0" font-size="10" text-anchor="middle" fill="#404040" stroke="#404040" stroke-width="0.1">7.75</text>
<text transform="translate(579.90,163.70) scale(0.97,1)" x="0" y="0" font-size="10" text-anchor="middle" fill="#404040" stroke="#404040" stroke-width="0.1">8.00</text>
<text transform="translate(635.90,163.70) scale(0.97,1)" x="0" y="0" font-size="10" text-anchor="middle" fill="#404040" stroke="#404040" stroke-width="0.1">8.25</text>
<text transform="translate(691.90,163.70) scale(0.97,1)" x="0" y="0" font-size="10" text-anchor="middle" fill="#404040" stroke="#404040" stroke-width="0.1">8.50</text>
<text transform="translate(748.40,163.70) scale(0.97,1)" x="0" y="0" font-size="10" text-anchor="middle" fill="#404040" stroke="#404040" stroke-width="0.1">8.75</text>
<text x="618.40" y="176.00" font-size="11" text-anchor="start" fill="#1a1a1a" textLength="37.00" lengthAdjust="spacingAndGlyphs" stroke="#1a1a1a" stroke-width="0.2">RBM15</text>
<text transform="translate(492.6,135.2) rotate(-90)" x="0" y="0" font-size="11" fill="#1a1a1a" stroke="#1a1a1a" stroke-width="0.15" textLength="99.2" lengthAdjust="spacingAndGlyphs">Interferon_Receptor</text>
<text x="622.6" y="111.9" font-size="16.5" font-style="italic" fill="#111">r</text>
<path d="M623.9,100.9 L627.4,97.2 L630.9,100.9" fill="none" stroke="#111" stroke-width="0.9"/>
<text x="630.60" y="114.20" font-size="8.9" text-anchor="start" fill="#111" textLength="33.80" lengthAdjust="spacingAndGlyphs">Pearson</text>
<text x="668.00" y="112.30" font-size="11.2" text-anchor="start" fill="#111" textLength="29.60" lengthAdjust="spacingAndGlyphs">=0.78</text>
<text x="624.40" y="128.50" font-size="11.4" text-anchor="start" fill="#111" textLength="52.60" lengthAdjust="spacingAndGlyphs">P=0.0017</text>
<line x1="763" x2="763" y1="17.4" y2="152" stroke="#ececec" stroke-width="0.6"/>
<line x1="766.8" x2="766.8" y1="17.4" y2="152" stroke="#ececec" stroke-width="0.6"/>
<line x1="770.6" x2="770.6" y1="17.4" y2="152" stroke="#ececec" stroke-width="0.6"/>
<line x1="774.3" x2="774.3" y1="17.4" y2="152" stroke="#ececec" stroke-width="0.6"/>
<line x1="778" x2="778" y1="17.4" y2="152" stroke="#ececec" stroke-width="0.6"/>
<line x1="781.6" x2="781.6" y1="17.4" y2="152" stroke="#ececec" stroke-width="0.6"/>
<line x1="759.4" x2="759.4" y1="39.4" y2="131.8" stroke="#1a1a1a" stroke-width="0.9"/>
<rect x="759.4" y="39.4" width="7.45" height="2.90" fill="#dc1478" stroke="#1a1a1a" stroke-width="0.8"/>
<rect x="759.4" y="42.3" width="7.45" height="3.20" fill="#dc1478" stroke="#1a1a1a" stroke-width="0.8"/>
<rect x="759.4" y="48.9" width="7.45" height="2.90" fill="#dc1478" stroke="#1a1a1a" stroke-width="0.8"/>
<rect x="759.4" y="76.4" width="7.45" height="3.10" fill="#dc1478" stroke="#1a1a1a" stroke-width="0.8"/>
<rect x="759.4" y="91.9" width="7.45" height="3.20" fill="#dc1478" stroke="#1a1a1a" stroke-width="0.8"/>
<rect x="759.4" y="107.3" width="14.90" height="3.20" fill="#dc1478" stroke="#1a1a1a" stroke-width="0.8"/>
<rect x="759.4" y="110.5" width="14.90" height="2.80" fill="#dc1478" stroke="#1a1a1a" stroke-width="0.8"/>
<rect x="759.4" y="113.3" width="7.45" height="3.10" fill="#dc1478" stroke="#1a1a1a" stroke-width="0.8"/>
<rect x="759.4" y="128.6" width="22.35" height="3.20" fill="#dc1478" stroke="#1a1a1a" stroke-width="0.8"/>
<text x="760.60" y="160.00" font-size="5.2" text-anchor="middle" fill="#555" stroke="#555" stroke-width="0.1">0</text>
<line x1="760.6" x2="760.6" y1="154.0" y2="155.3" stroke="#555" stroke-width="0.8"/>
<text x="767.30" y="160.00" font-size="5.2" text-anchor="middle" fill="#555" stroke="#555" stroke-width="0.1">1</text>
<line x1="767.3" x2="767.3" y1="154.0" y2="155.3" stroke="#555" stroke-width="0.8"/>
<text x="774.40" y="160.00" font-size="5.2" text-anchor="middle" fill="#555" stroke="#555" stroke-width="0.1">2</text>
<line x1="774.4" x2="774.4" y1="154.0" y2="155.3" stroke="#555" stroke-width="0.8"/>
<text x="781.50" y="160.00" font-size="5.2" text-anchor="middle" fill="#555" stroke="#555" stroke-width="0.1">3</text>
<line x1="781.5" x2="781.5" y1="154.0" y2="155.3" stroke="#555" stroke-width="0.8"/>
<text transform="translate(493.80,190.80) scale(0.93,1)" x="0" y="0" font-size="17.4" text-anchor="start" fill="#000" stroke="#000" stroke-width="0.3">C</text>
<rect x="517.6" y="191.6" width="242.00" height="14.60" fill="#f0f0f0"/>
<line x1="517.6" x2="759.6" y1="192.9" y2="192.9" stroke="#dedede" stroke-width="0.6"/>
<line x1="517.6" x2="759.6" y1="195.2" y2="195.2" stroke="#dedede" stroke-width="0.6"/>
<line x1="517.6" x2="759.6" y1="197.2" y2="197.2" stroke="#dedede" stroke-width="0.6"/>
<line x1="517.6" x2="759.6" y1="199.3" y2="199.3" stroke="#dedede" stroke-width="0.6"/>
<line x1="517.6" x2="759.6" y1="201.3" y2="201.3" stroke="#dedede" stroke-width="0.6"/>
<line x1="517.6" x2="759.6" y1="203.6" y2="203.6" stroke="#dedede" stroke-width="0.6"/>
<line x1="536.5" x2="536.5" y1="191.6" y2="206" stroke="#e4e4e4" stroke-width="0.5"/>
<line x1="565" x2="565" y1="191.6" y2="206" stroke="#e4e4e4" stroke-width="0.5"/>
<line x1="593" x2="593" y1="191.6" y2="206" stroke="#e4e4e4" stroke-width="0.5"/>
<line x1="621" x2="621" y1="191.6" y2="206" stroke="#e4e4e4" stroke-width="0.5"/>
<line x1="648.5" x2="648.5" y1="191.6" y2="206" stroke="#e4e4e4" stroke-width="0.5"/>
<line x1="676.6" x2="676.6" y1="191.6" y2="206" stroke="#e4e4e4" stroke-width="0.5"/>
<line x1="704" x2="704" y1="191.6" y2="206" stroke="#e4e4e4" stroke-width="0.5"/>
<line x1="732.7" x2="732.7" y1="191.6" y2="206" stroke="#e4e4e4" stroke-width="0.5"/>
<rect x="528.3" y="197.50" width="7.40" height="8.40" fill="#1ba4aa" stroke="#1a1a1a" stroke-width="0.8"/>
<rect x="535.7" y="201.70" width="7.20" height="4.20" fill="#1ba4aa" stroke="#1a1a1a" stroke-width="0.8"/>
<rect x="557.4" y="201.70" width="7.40" height="4.20" fill="#1ba4aa" stroke="#1a1a1a" stroke-width="0.8"/>
<rect x="579.3" y="201.70" width="7.20" height="4.20" fill="#1ba4aa" stroke="#1a1a1a" stroke-width="0.8"/>
<rect x="586.5" y="197.50" width="7.40" height="8.40" fill="#1ba4aa" stroke="#1a1a1a" stroke-width="0.8"/>
<rect x="608.6" y="201.70" width="7.60" height="4.20" fill="#1ba4aa" stroke="#1a1a1a" stroke-width="0.8"/>
<rect x="667.3" y="193.30" width="7.80" height="12.60" fill="#1ba4aa" stroke="#1a1a1a" stroke-width="0.8"/>
<rect x="711.4" y="201.70" width="7.40" height="4.20" fill="#1ba4aa" stroke="#1a1a1a" stroke-width="0.8"/>
<rect x="740.8" y="201.70" width="7.80" height="4.20" fill="#1ba4aa" stroke="#1a1a1a" stroke-width="0.8"/>
<text x="516.20" y="195.40" font-size="5.6" text-anchor="end" fill="#555" stroke="#555" stroke-width="0.1">3</text>
<line x1="516.4" x2="517.8" y1="193.4" y2="193.4" stroke="#555" stroke-width="0.8"/>
<text x="516.20" y="199.40" font-size="5.6" text-anchor="end" fill="#555" stroke="#555" stroke-width="0.1">2</text>
<line x1="516.4" x2="517.8" y1="197.4" y2="197.4" stroke="#555" stroke-width="0.8"/>
<text x="516.20" y="203.50" font-size="5.6" text-anchor="end" fill="#555" stroke="#555" stroke-width="0.1">1</text>
<line x1="516.4" x2="517.8" y1="201.5" y2="201.5" stroke="#555" stroke-width="0.8"/>
<text x="516.20" y="207.40" font-size="5.6" text-anchor="end" fill="#555" stroke="#555" stroke-width="0.1">0</text>
<line x1="516.4" x2="517.8" y1="205.4" y2="205.4" stroke="#555" stroke-width="0.8"/>
<line x1="517.6" x2="784" y1="213.6" y2="213.6" stroke="#e4e4e4" stroke-width="0.8"/>
<line x1="517.6" x2="784" y1="233.2" y2="233.2" stroke="#e4e4e4" stroke-width="0.8"/>
<line x1="517.6" x2="784" y1="252.6" y2="252.6" stroke="#e4e4e4" stroke-width="0.8"/>
<line x1="517.6" x2="784" y1="272.0" y2="272.0" stroke="#e4e4e4" stroke-width="0.8"/>
<line x1="517.6" x2="784" y1="292.2" y2="292.2" stroke="#e4e4e4" stroke-width="0.8"/>
<line x1="517.6" x2="784" y1="311.4" y2="311.4" stroke="#e4e4e4" stroke-width="0.8"/>
<line x1="517.6" x2="784" y1="330.6" y2="330.6" stroke="#e4e4e4" stroke-width="0.8"/>
<line x1="536.5" x2="536.5" y1="206.2" y2="342.2" stroke="#e4e4e4" stroke-width="0.8"/>
<line x1="565" x2="565" y1="206.2" y2="342.2" stroke="#e4e4e4" stroke-width="0.8"/>
<line x1="593" x2="593" y1="206.2" y2="342.2" stroke="#e4e4e4" stroke-width="0.8"/>
<line x1="621" x2="621" y1="206.2" y2="342.2" stroke="#e4e4e4" stroke-width="0.8"/>
<line x1="648.5" x2="648.5" y1="206.2" y2="342.2" stroke="#e4e4e4" stroke-width="0.8"/>
<line x1="676.6" x2="676.6" y1="206.2" y2="342.2" stroke="#e4e4e4" stroke-width="0.8"/>
<line x1="704" x2="704" y1="206.2" y2="342.2" stroke="#e4e4e4" stroke-width="0.8"/>
<line x1="732.7" x2="732.7" y1="206.2" y2="342.2" stroke="#e4e4e4" stroke-width="0.8"/>
<path d="M528.50,225.31 L533.83,227.43 L539.16,229.52 L544.49,231.58 L549.82,233.60 L555.15,235.59 L560.48,237.53 L565.81,239.43 L571.14,241.28 L576.47,243.07 L581.80,244.80 L587.13,246.47 L592.46,248.07 L597.79,249.60 L603.12,251.05 L608.45,252.43 L613.78,253.72 L619.11,254.93 L624.44,256.06 L629.77,257.12 L635.10,258.09 L640.43,259.00 L645.76,259.83 L651.09,260.60 L656.42,261.31 L661.75,261.96 L667.08,262.56 L672.41,263.12 L677.74,263.63 L683.07,264.10 L688.40,264.54 L693.73,264.95 L699.06,265.32 L704.39,265.68 L709.72,266.00 L715.05,266.31 L720.38,266.60 L725.71,266.87 L731.04,267.12 L736.37,267.36 L741.70,267.59 L741.70,335.61 L736.37,333.35 L731.04,331.10 L725.71,328.86 L720.38,326.64 L715.05,324.44 L709.72,322.26 L704.39,320.09 L699.06,317.96 L693.73,315.84 L688.40,313.76 L683.07,311.71 L677.74,309.69 L672.41,307.71 L667.08,305.78 L661.75,303.89 L656.42,302.05 L651.09,300.27 L645.76,298.55 L640.43,296.89 L635.10,295.31 L629.77,293.79 L624.44,292.36 L619.11,291.00 L613.78,289.72 L608.45,288.52 L603.12,287.41 L597.79,286.37 L592.46,285.41 L587.13,284.52 L581.80,283.70 L576.47,282.94 L571.14,282.24 L565.81,281.60 L560.48,281.01 L555.15,280.46 L549.82,279.96 L544.49,279.49 L539.16,279.06 L533.83,278.66 L528.50,278.29 Z" fill="#999999" fill-opacity="0.42"/>
<line x1="528.5" y1="252.0" x2="741.7" y2="302.0" stroke="#ffe000" stroke-width="8.9" stroke-linecap="butt"/>
<circle cx="528.6" cy="214.9" r="1.1" fill="#6a6a6a"/>
<circle cx="534.9" cy="240.3" r="1.1" fill="#6a6a6a"/>
<circle cx="613" cy="251.6" r="1.1" fill="#6a6a6a"/>
<circle cx="667.8" cy="263.7" r="1.1" fill="#6a6a6a"/>
<circle cx="670.5" cy="269.2" r="1.1" fill="#6a6a6a"/>
<circle cx="580.6" cy="281.3" r="1.1" fill="#6a6a6a"/>
<circle cx="741.7" cy="282.1" r="1.1" fill="#6a6a6a"/>
<circle cx="563" cy="302.4" r="1.1" fill="#6a6a6a"/>
<circle cx="715.5" cy="329.8" r="1.1" fill="#6a6a6a"/>
<rect x="517.6" y="206.2" width="242.00" height="136.00" fill="none" stroke="#555555" stroke-width="1.3"/>
<line x1="516.1" x2="517.6" y1="233.2" y2="233.2" stroke="#555555" stroke-width="0.9"/>
<text x="497.00" y="236.80" font-size="10.2" text-anchor="start" fill="#404040" textLength="18.50" lengthAdjust="spacingAndGlyphs" stroke="#404040" stroke-width="0.12">0.20</text>
<line x1="516.1" x2="517.6" y1="272.0" y2="272.0" stroke="#555555" stroke-width="0.9"/>
<text x="497.00" y="275.60" font-size="10.2" text-anchor="start" fill="#404040" textLength="18.50" lengthAdjust="spacingAndGlyphs" stroke="#404040" stroke-width="0.12">0.16</text>
<line x1="516.1" x2="517.6" y1="311.4" y2="311.4" stroke="#555555" stroke-width="0.9"/>
<text x="497.00" y="315.00" font-size="10.2" text-anchor="start" fill="#404040" textLength="18.50" lengthAdjust="spacingAndGlyphs" stroke="#404040" stroke-width="0.12">0.12</text>
<text transform="translate(541.80,353.80) scale(0.97,1)" x="0" y="0" font-size="10" text-anchor="middle" fill="#404040" stroke="#404040" stroke-width="0.1">7.50</text>
<text transform="translate(597.10,353.80) scale(0.97,1)" x="0" y="0" font-size="10" text-anchor="middle" fill="#404040" stroke="#404040" stroke-width="0.1">7.75</text>
<text transform="translate(652.50,353.80) scale(0.97,1)" x="0" y="0" font-size="10" text-anchor="middle" fill="#404040" stroke="#404040" stroke-width="0.1">8.00</text>
<text transform="translate(708.00,353.80) scale(0.97,1)" x="0" y="0" font-size="10" text-anchor="middle" fill="#404040" stroke="#404040" stroke-width="0.1">8.25</text>
<text x="623.40" y="368.00" font-size="11" text-anchor="start" fill="#1a1a1a" textLength="33.60" lengthAdjust="spacingAndGlyphs" stroke="#1a1a1a" stroke-width="0.2">CBLL1</text>
<text transform="translate(495.4,363.4) rotate(-90)" x="0" y="0" font-size="11" fill="#1a1a1a" stroke="#1a1a1a" stroke-width="0.15" textLength="170.7" lengthAdjust="spacingAndGlyphs">TNF_Family_Members_Receptors</text>
<text x="586.3" y="308.0" font-size="16.5" font-style="italic" fill="#111">r</text>
<path d="M586.3,296.2 L590.4,291.6 L594.5,296.2" fill="none" stroke="#111" stroke-width="0.9"/>
<text x="593.80" y="309.30" font-size="8.9" text-anchor="start" fill="#111" textLength="33.20" lengthAdjust="spacingAndGlyphs">Pearson</text>
<text x="630.60" y="306.70" font-size="11.2" text-anchor="start" fill="#111" textLength="33.60" lengthAdjust="spacingAndGlyphs">=-0.54</text>
<text x="585.60" y="323.90" font-size="11.4" text-anchor="start" fill="#111" textLength="52.60" lengthAdjust="spacingAndGlyphs">P=0.0600</text>
<line x1="763.5" x2="763.5" y1="206" y2="341" stroke="#ececec" stroke-width="0.6"/>
<line x1="767.2" x2="767.2" y1="206" y2="341" stroke="#ececec" stroke-width="0.6"/>
<line x1="770.9" x2="770.9" y1="206" y2="341" stroke="#ececec" stroke-width="0.6"/>
<line x1="774.6" x2="774.6" y1="206" y2="341" stroke="#ececec" stroke-width="0.6"/>
<line x1="778.3" x2="778.3" y1="206" y2="341" stroke="#ececec" stroke-width="0.6"/>
<line x1="782" x2="782" y1="206" y2="341" stroke="#ececec" stroke-width="0.6"/>
<rect x="760.8" y="212.9" width="7.40" height="3.80" fill="#dc1478" stroke="#1a1a1a" stroke-width="0.8"/>
<rect x="760.8" y="240.8" width="14.80" height="4.20" fill="#dc1478" stroke="#1a1a1a" stroke-width="0.8"/>
<rect x="760.8" y="249.3" width="7.40" height="3.40" fill="#dc1478" stroke="#1a1a1a" stroke-width="0.8"/>
<rect x="760.8" y="261.0" width="7.40" height="4.00" fill="#dc1478" stroke="#1a1a1a" stroke-width="0.8"/>
<rect x="760.8" y="265.0" width="7.40" height="3.80" fill="#dc1478" stroke="#1a1a1a" stroke-width="0.8"/>
<rect x="760.8" y="268.8" width="7.40" height="3.60" fill="#dc1478" stroke="#1a1a1a" stroke-width="0.8"/>
<rect x="760.8" y="280.3" width="22.20" height="4.40" fill="#dc1478" stroke="#1a1a1a" stroke-width="0.8"/>
<rect x="760.8" y="300.8" width="7.40" height="3.70" fill="#dc1478" stroke="#1a1a1a" stroke-width="0.8"/>
<rect x="760.8" y="304.5" width="7.40" height="3.90" fill="#dc1478" stroke="#1a1a1a" stroke-width="0.8"/>
<rect x="760.8" y="328.2" width="7.40" height="4.30" fill="#dc1478" stroke="#1a1a1a" stroke-width="0.8"/>
<text x="760.80" y="347.60" font-size="5.2" text-anchor="middle" fill="#555" stroke="#555" stroke-width="0.1">0</text>
<text x="768.30" y="347.60" font-size="5.2" text-anchor="middle" fill="#555" stroke="#555" stroke-width="0.1">1</text>
<text x="775.40" y="347.60" font-size="5.2" text-anchor="middle" fill="#555" stroke="#555" stroke-width="0.1">2</text>
<text x="782.30" y="347.60" font-size="5.2" text-anchor="middle" fill="#555" stroke="#555" stroke-width="0.1">3</text>
</svg>
</body></html>
